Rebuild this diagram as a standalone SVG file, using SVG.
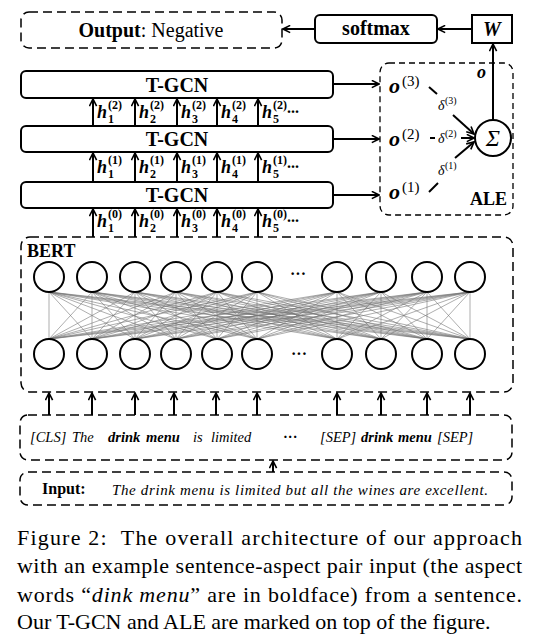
<svg xmlns="http://www.w3.org/2000/svg" width="539" height="634" viewBox="0 0 539 634">
<defs>
<style>
.t{font-family:"Liberation Serif","Times New Roman",serif;fill:#000}
.b{font-weight:bold}
.i{font-style:italic}
.solid{fill:#fff;stroke:#000;stroke-width:2}
.dash{fill:none;stroke:#000;stroke-width:1.5;stroke-dasharray:9 5}
.dash2{fill:none;stroke:#000;stroke-width:1.3;stroke-dasharray:6 4}
.ar{stroke:#000;stroke-width:2;fill:none;marker-end:url(#ah)}
.ln{stroke:#000;stroke-width:2;fill:none}
.nd{fill:#fff;stroke:#000;stroke-width:2}
</style>
<marker id="ah" viewBox="0 0 10 10" refX="9" refY="5" markerWidth="9" markerHeight="9" markerUnits="userSpaceOnUse" orient="auto">
<path d="M1,1 L9,5 L1,9" fill="none" stroke="#000" stroke-width="1.8"/>
</marker>
</defs>
<rect width="539" height="634" fill="#fff"/>

<g id="output">
<rect class="dash" x="21" y="12" width="261" height="36" rx="8"/>
<text class="t" x="151" y="37" font-size="20" text-anchor="middle"><tspan class="b">Output</tspan>: Negative</text>
</g>
<g id="softmax">
<rect class="solid" x="315" y="15" width="122" height="28" rx="5"/>
<text class="t b" x="376" y="35" font-size="20" text-anchor="middle">softmax</text>
</g>
<g id="W">
<rect class="solid" x="472" y="15" width="40" height="28"/>
<text class="t b i" x="492" y="36" font-size="20" text-anchor="middle">W</text>
</g>

<g id="tgcn3">
<rect class="solid" x="21" y="71" width="312" height="27" rx="5"/>
<text class="t b" x="177" y="92" font-size="20" text-anchor="middle">T-GCN</text>
</g>
<g id="tgcn2">
<rect class="solid" x="21" y="126" width="312" height="26" rx="5"/>
<text class="t b" x="177" y="146" font-size="20" text-anchor="middle">T-GCN</text>
</g>
<g id="tgcn1">
<rect class="solid" x="21" y="182" width="312" height="26" rx="5"/>
<text class="t b" x="177" y="202" font-size="20" text-anchor="middle">T-GCN</text>
</g>

<g id="ALE">
<rect class="dash2" x="380" y="63" width="133" height="152" rx="9"/>
<text class="t b" x="470" y="205" font-size="18">ALE</text>
<text class="t b i" x="389" y="93" font-size="22">o</text><text class="t" x="402" y="86" font-size="15">(3)</text>
<text class="t b i" x="389" y="146" font-size="22">o</text><text class="t" x="402" y="139" font-size="15">(2)</text>
<text class="t b i" x="389" y="199" font-size="22">o</text><text class="t" x="402" y="192" font-size="15">(1)</text>
<text class="t i" x="438" y="110" font-size="14">δ</text><text class="t" x="445" y="104" font-size="10">(3)</text>
<text class="t i" x="438" y="143" font-size="14">δ</text><text class="t" x="445" y="137" font-size="10">(2)</text>
<text class="t i" x="438" y="175" font-size="14">δ</text><text class="t" x="445" y="169" font-size="10">(1)</text>
<text class="t b i" x="477" y="78" font-size="18">o</text>
</g>
<g id="sigma">
<circle class="nd" cx="493" cy="138" r="18"/>
<text class="t i" x="493" y="146" font-size="24" text-anchor="middle">Σ</text>
</g>

<g id="bert">
<rect class="dash" x="21" y="237" width="492" height="155" rx="9"/>
<text class="t b" x="27" y="257" font-size="18">BERT</text>
<path stroke="#777" stroke-width="0.6" fill="none" d="M49 292L49 339M49 292L92 339M49 292L135 339M49 292L176 339M49 292L217 339M49 292L257 339M49 292L337 339M49 292L381 339M49 292L427 339M49 292L470 339
M92 292L49 339M92 292L92 339M92 292L135 339M92 292L176 339M92 292L217 339M92 292L257 339M92 292L337 339M92 292L381 339M92 292L427 339M92 292L470 339
M135 292L49 339M135 292L92 339M135 292L135 339M135 292L176 339M135 292L217 339M135 292L257 339M135 292L337 339M135 292L381 339M135 292L427 339M135 292L470 339
M176 292L49 339M176 292L92 339M176 292L135 339M176 292L176 339M176 292L217 339M176 292L257 339M176 292L337 339M176 292L381 339M176 292L427 339M176 292L470 339
M217 292L49 339M217 292L92 339M217 292L135 339M217 292L176 339M217 292L217 339M217 292L257 339M217 292L337 339M217 292L381 339M217 292L427 339M217 292L470 339
M257 292L49 339M257 292L92 339M257 292L135 339M257 292L176 339M257 292L217 339M257 292L257 339M257 292L337 339M257 292L381 339M257 292L427 339M257 292L470 339
M337 292L49 339M337 292L92 339M337 292L135 339M337 292L176 339M337 292L217 339M337 292L257 339M337 292L337 339M337 292L381 339M337 292L427 339M337 292L470 339
M381 292L49 339M381 292L92 339M381 292L135 339M381 292L176 339M381 292L217 339M381 292L257 339M381 292L337 339M381 292L381 339M381 292L427 339M381 292L470 339
M427 292L49 339M427 292L92 339M427 292L135 339M427 292L176 339M427 292L217 339M427 292L257 339M427 292L337 339M427 292L381 339M427 292L427 339M427 292L470 339
M470 292L49 339M470 292L92 339M470 292L135 339M470 292L176 339M470 292L217 339M470 292L257 339M470 292L337 339M470 292L381 339M470 292L427 339M470 292L470 339"/>
<g>
<circle class="nd" cx="49" cy="277" r="15"/><circle class="nd" cx="92" cy="277" r="15"/><circle class="nd" cx="135" cy="277" r="15"/><circle class="nd" cx="176" cy="277" r="15"/><circle class="nd" cx="217" cy="277" r="15"/><circle class="nd" cx="257" cy="277" r="15"/><circle class="nd" cx="337" cy="277" r="15"/><circle class="nd" cx="381" cy="277" r="15"/><circle class="nd" cx="427" cy="277" r="15"/><circle class="nd" cx="470" cy="277" r="15"/>
<circle class="nd" cx="49" cy="354" r="15"/><circle class="nd" cx="92" cy="354" r="15"/><circle class="nd" cx="135" cy="354" r="15"/><circle class="nd" cx="176" cy="354" r="15"/><circle class="nd" cx="217" cy="354" r="15"/><circle class="nd" cx="257" cy="354" r="15"/><circle class="nd" cx="337" cy="354" r="15"/><circle class="nd" cx="381" cy="354" r="15"/><circle class="nd" cx="427" cy="354" r="15"/><circle class="nd" cx="470" cy="354" r="15"/>
</g>
<text class="t b" x="298" y="279" font-size="16" text-anchor="middle">···</text>
<text class="t b" x="299" y="359" font-size="16" text-anchor="middle">···</text>
</g>

<g id="tokens">
<rect class="dash" x="20" y="415" width="492" height="45" rx="8"/>
<g class="t i" font-size="14.5">
<text x="30" y="442">[CLS]</text>
<text x="72" y="442">The</text>
<text x="108" y="442" class="b">drink</text>
<text x="146" y="442" class="b">menu</text>
<text x="193" y="442">is</text>
<text x="211" y="442">limited</text>
<text x="283" y="442" font-style="normal" class="b">···</text>
<text x="320" y="442">[SEP]</text>
<text x="361" y="442" class="b">drink</text>
<text x="398" y="442" class="b">menu</text>
<text x="437" y="442">[SEP]</text>
</g>
</g>

<g id="input">
<rect class="dash" x="20" y="472" width="492" height="33" rx="8"/>
<text class="t b" x="42" y="494" font-size="16">Input:</text>
<text class="t i" x="112" y="495" font-size="15" textLength="376" lengthAdjust="spacing">The drink menu is limited but all the wines are excellent.</text>
</g>

<g id="hlabels" class="t">
<g font-size="18" class="b i">
<text x="97" y="118">h</text><text x="139" y="118">h</text><text x="181" y="118">h</text><text x="221" y="118">h</text><text x="262" y="118">h</text>
<text x="97" y="173">h</text><text x="139" y="173">h</text><text x="181" y="173">h</text><text x="221" y="173">h</text><text x="262" y="173">h</text>
<text x="97" y="227">h</text><text x="139" y="227">h</text><text x="181" y="227">h</text><text x="221" y="227">h</text><text x="262" y="227">h</text>
</g>
<g font-size="12" class="b">
<text x="108" y="109">(2)</text><text x="150" y="109">(2)</text><text x="192" y="109">(2)</text><text x="232" y="109">(2)</text><text x="273" y="109">(2)</text>
<text x="108" y="123">1</text><text x="150" y="123">2</text><text x="192" y="123">3</text><text x="232" y="123">4</text><text x="273" y="123">5</text>
<text x="108" y="164">(1)</text><text x="150" y="164">(1)</text><text x="192" y="164">(1)</text><text x="232" y="164">(1)</text><text x="273" y="164">(1)</text>
<text x="108" y="178">1</text><text x="150" y="178">2</text><text x="192" y="178">3</text><text x="232" y="178">4</text><text x="273" y="178">5</text>
<text x="108" y="218">(0)</text><text x="150" y="218">(0)</text><text x="192" y="218">(0)</text><text x="232" y="218">(0)</text><text x="273" y="218">(0)</text>
<text x="108" y="232">1</text><text x="150" y="232">2</text><text x="192" y="232">3</text><text x="232" y="232">4</text><text x="273" y="232">5</text>
</g>
<g font-size="16" class="b">
<text x="287" y="113">...</text><text x="287" y="168">...</text><text x="287" y="222">...</text>
</g>
</g>

<g id="connectors">
<line class="ar" x1="472" y1="29" x2="438" y2="29"/>
<line class="ar" x1="315" y1="29" x2="283" y2="29"/>
<line class="ar" x1="493" y1="120" x2="493" y2="44"/>
<line class="ar" x1="333" y1="84" x2="379" y2="84"/>
<line class="ar" x1="333" y1="139" x2="379" y2="139"/>
<line class="ar" x1="333" y1="195" x2="379" y2="195"/>
<line class="ln" x1="429" y1="87" x2="437" y2="94"/>
<line class="ar" x1="453" y1="115" x2="474" y2="134"/>
<line class="ln" x1="430" y1="138" x2="435" y2="138"/>
<line class="ar" x1="461" y1="138" x2="474" y2="138"/>
<line class="ln" x1="429" y1="192" x2="438" y2="183"/>
<line class="ar" x1="455" y1="158" x2="474" y2="142"/>
<g>
<line class="ar" x1="93" y1="126" x2="93" y2="99"/><line class="ar" x1="135" y1="126" x2="135" y2="99"/><line class="ar" x1="177" y1="126" x2="177" y2="99"/><line class="ar" x1="217" y1="126" x2="217" y2="99"/><line class="ar" x1="258" y1="126" x2="258" y2="99"/>
<line class="ar" x1="93" y1="182" x2="93" y2="153"/><line class="ar" x1="135" y1="182" x2="135" y2="153"/><line class="ar" x1="177" y1="182" x2="177" y2="153"/><line class="ar" x1="217" y1="182" x2="217" y2="153"/><line class="ar" x1="258" y1="182" x2="258" y2="153"/>
<line class="ar" x1="93" y1="237" x2="93" y2="209"/><line class="ar" x1="135" y1="237" x2="135" y2="209"/><line class="ar" x1="177" y1="237" x2="177" y2="209"/><line class="ar" x1="217" y1="237" x2="217" y2="209"/><line class="ar" x1="258" y1="237" x2="258" y2="209"/>
</g>
<g>
<line class="ar" x1="49" y1="415" x2="49" y2="393"/><line class="ar" x1="92" y1="415" x2="92" y2="393"/><line class="ar" x1="135" y1="415" x2="135" y2="393"/><line class="ar" x1="174" y1="415" x2="174" y2="393"/><line class="ar" x1="216" y1="415" x2="216" y2="393"/><line class="ar" x1="257" y1="415" x2="257" y2="393"/><line class="ar" x1="337" y1="415" x2="337" y2="393"/><line class="ar" x1="381" y1="415" x2="381" y2="393"/><line class="ar" x1="427" y1="415" x2="427" y2="393"/><line class="ar" x1="470" y1="415" x2="470" y2="393"/>
</g>
<line class="ar" x1="273" y1="472" x2="273" y2="461"/>
</g>

<g id="caption" class="t" font-size="22">
<text x="17" y="545" textLength="505" lengthAdjust="spacing" xml:space="preserve">Figure 2:  The overall architecture of our approach</text>
<text x="17" y="573" textLength="505" lengthAdjust="spacing">with an example sentence-aspect pair input (the aspect</text>
<text x="17" y="602" textLength="505" lengthAdjust="spacing">words “<tspan class="i">dink menu</tspan>” are in boldface) from a sentence.</text>
<text x="17" y="629">Our T-GCN and ALE are marked on top of the figure.</text>
</g>
</svg>
